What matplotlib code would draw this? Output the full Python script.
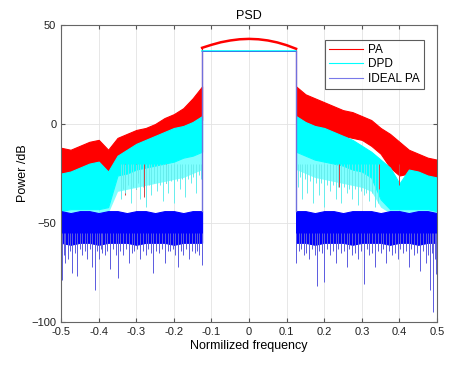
import numpy as np
import matplotlib.pyplot as plt

plt.rcParams['font.family'] = ['Liberation Sans', 'DejaVu Sans']

# out-of-band frequency nodes (left / right of the channel)
f_left = [-0.5, -0.475, -0.45, -0.425, -0.4, -0.375, -0.35, -0.325, -0.3,
          -0.275, -0.25, -0.225, -0.2, -0.175, -0.15, -0.125]
f_right = [0.125, 0.15, 0.175, 0.2, 0.225, 0.25, 0.275, 0.3, 0.325, 0.35,
           0.375, 0.4, 0.425, 0.45, 0.475, 0.5]

# PA (red) noise band, dB
pa_top_l = [-12, -13, -11, -9, -8, -13, -7, -5, -3, -2, 0, 3, 5, 8, 13, 19]
pa_bot_l = [-30, -27, -24, -22, -20, -25, -22, -17, -15, -13, -11, -9, -7, -4, -1, 2]
pa_top_r = [19, 15, 13, 11, 9, 7, 6, 4, 2, -2, -5, -9, -13, -15, -17, -18]
pa_bot_r = [4, 1, -1, -2, -4, -6, -7, -8, -11, -15, -22, -26, -25, -24, -27, -30]

# DPD (cyan) noise band, dB: dense part and pale spike fringe below it
dpd_top_l = [-25, -24, -22, -20, -19, -24, -16, -13, -10, -8, -6, -4, -2, -1, 1, 4]
dpd_bot_l = [-44, -43, -43, -43, -43, -42, -26, -25, -23, -22, -21, -20, -19, -17, -16, -14]
dpd_frg_l = [-45, -45, -45, -45, -45, -45, -34, -33, -32, -31, -30, -29, -28, -27, -25, -23]
dpd_top_r = [4, 1, -1, -2, -4, -6, -8, -11, -14, -18, -22, -30, -23, -24, -26, -27]
dpd_bot_r = [-14, -16, -18, -19, -20, -21, -23, -24, -27, -38, -43, -43, -43, -43, -43, -44]
dpd_frg_r = [-23, -25, -27, -28, -29, -30, -31, -32, -34, -42, -45, -45, -45, -45, -45, -45]

# IDEAL PA (blue) dense noise core, dB
ideal_top_l = [-44, -45, -44, -44, -45, -44, -44, -45, -44, -44, -45, -44, -44, -45, -44, -44]
ideal_bot_l = [-60, -61, -60, -60, -61, -60, -60, -60, -61, -60, -60, -60, -61, -60, -60, -60]
ideal_top_r = [-44, -44, -45, -44, -44, -45, -44, -44, -44, -45, -44, -44, -45, -44, -44, -45]
ideal_bot_r = [-60, -60, -61, -60, -60, -60, -61, -60, -60, -60, -61, -60, -60, -61, -60, -60]

# in-band levels
f_in = [-0.125, -0.1, -0.075, -0.05, -0.025, 0, 0.025, 0.05, 0.075, 0.1, 0.125]
pa_in = [38.5, 40.0, 41.3, 42.2, 42.8, 43.0, 42.8, 42.2, 41.2, 39.8, 38.0]
dpd_in = [37] * 11
ideal_in = [37] * 11

# deep downward spikes (frequency, dB)
ideal_spk_f = [-0.497, -0.493, -0.49, -0.483, -0.477, -0.47, -0.463, -0.457, -0.45, -0.445,
               -0.437, -0.43, -0.424, -0.418, -0.41, -0.405, -0.4, -0.395, -0.39, -0.383,
               -0.377, -0.37, -0.362, -0.355, -0.35, -0.343, -0.335, -0.328, -0.32, -0.312,
               -0.305, -0.297, -0.29, -0.283, -0.275, -0.268, -0.262, -0.255, -0.248, -0.24,
               -0.232, -0.225, -0.217, -0.21, -0.203, -0.197, -0.19, -0.182, -0.175, -0.168,
               -0.16, -0.152, -0.145, -0.138, -0.132, -0.126,
               0.126, 0.132, 0.138, 0.145, 0.152, 0.16, 0.168, 0.175, 0.18, 0.187, 0.193,
               0.2, 0.207, 0.215, 0.222, 0.23, 0.237, 0.245, 0.252, 0.26, 0.267, 0.275,
               0.282, 0.29, 0.298, 0.306, 0.313, 0.32, 0.327, 0.335, 0.343, 0.35, 0.357,
               0.365, 0.372, 0.38, 0.387, 0.395, 0.402, 0.41, 0.418, 0.425, 0.432, 0.44,
               0.447, 0.455, 0.462, 0.47, 0.475, 0.48, 0.486, 0.49, 0.494, 0.497]
ideal_spk_v = [-79, -66, -70, -68, -64, -75, -65, -77, -63, -66, -64, -68, -63, -72, -84,
               -64, -68, -63, -65, -66, -64, -73, -63, -66, -78, -64, -66, -63, -70, -65,
               -64, -63, -68, -64, -66, -63, -65, -75, -64, -65, -63, -70, -64, -64, -63,
               -66, -72, -64, -66, -63, -68, -64, -65, -64, -66, -71,
               -70, -64, -63, -66, -65, -68, -63, -66, -82, -64, -65, -80, -63, -66, -64,
               -70, -63, -65, -64, -72, -63, -66, -65, -68, -64, -81, -63, -66, -65, -72,
               -64, -65, -63, -70, -64, -66, -65, -68, -63, -65, -64, -72, -63, -66, -65,
               -74, -64, -70, -66, -84, -65, -95, -68, -76]
dpd_spk_f = [-0.34, -0.335, -0.33, -0.322, -0.315, -0.308, -0.3, -0.295, -0.29, -0.282,
             -0.275, -0.267, -0.26, -0.252, -0.245, -0.238, -0.23, -0.222, -0.215, -0.207,
             -0.2, -0.192, -0.185, -0.178, -0.17, -0.162, -0.155, -0.148, -0.14, -0.133, -0.128,
             0.13, 0.136, 0.14, 0.148, 0.155, 0.162, 0.17, 0.178, 0.185, 0.192, 0.2, 0.207,
             0.215, 0.222, 0.23, 0.237, 0.245, 0.252, 0.26, 0.267, 0.275, 0.282, 0.29,
             0.298, 0.305, 0.312, 0.32, 0.327, 0.335, 0.342]
dpd_spk_v = [-38, -33, -35, -31, -40, -32, -33, -30, -38, -32, -42, -31, -36, -30, -34,
             -31, -39, -30, -35, -29, -40, -29, -33, -28, -37, -28, -30, -27, -35, -26, -28,
             -32, -27, -38, -28, -35, -29, -40, -30, -36, -30, -42, -31, -34, -31, -38,
             -32, -40, -32, -35, -33, -38, -33, -41, -34, -36, -35, -39, -35, -42, -40]
pa_spk_f = [-0.33, -0.3, -0.28, -0.22, 0.24, 0.345, 0.4]
pa_spk_v = [-36, -33, -37, -30, -32, -33, -31]

fig, ax = plt.subplots(figsize=(4.74, 3.68), dpi=100)
fig.subplots_adjust(left=0.129, right=0.922, top=0.932, bottom=0.125)

red, cyan, blue = '#ff0000', '#00ffff', '#0000ff'

# PA
for f, top, bot in [(f_left, pa_top_l, pa_bot_l), (f_right, pa_top_r, pa_bot_r)]:
    ax.fill_between(f, bot, top, color=red, lw=0.8, edgecolor=red)
ax.vlines(pa_spk_f, -20, pa_spk_v, color='#d04040', lw=0.7)
ax.plot(f_in, pa_in, color=red, lw=1.8, label='PA')
ax.plot([-0.125, -0.125], [pa_top_l[-1], pa_in[0]], color=red, lw=0.8)
ax.plot([0.125, 0.125], [pa_top_r[0], pa_in[-1]], color=red, lw=0.8)

# DPD
for f, top, bot, frg in [(f_left, dpd_top_l, dpd_bot_l, dpd_frg_l),
                         (f_right, dpd_top_r, dpd_bot_r, dpd_frg_r)]:
    ax.fill_between(f, frg, bot, color=cyan, lw=0, alpha=0.5)
    ax.fill_between(f, bot, top, color=cyan, lw=0.8, edgecolor=cyan)
ax.vlines(dpd_spk_f, -20, dpd_spk_v, color='#66eeee', lw=0.7)
ax.plot(f_in, dpd_in, color=cyan, lw=1.2, label='DPD')

# IDEAL PA
for f, top, bot in [(f_left, ideal_top_l, ideal_bot_l), (f_right, ideal_top_r, ideal_bot_r)]:
    ax.fill_between(f, bot, top, color=blue, lw=0.8, edgecolor=blue)
ax.vlines(ideal_spk_f, -55, ideal_spk_v, color='#5a5ae0', lw=0.7)
ax.plot(f_in, ideal_in, color='#4040e0', lw=0.7, alpha=0.7, label='IDEAL PA')
ax.plot([-0.125, -0.125], [ideal_top_l[-1], ideal_in[0]], color='#7070dd', lw=1.0)
ax.plot([0.125, 0.125], [ideal_top_r[0], ideal_in[-1]], color='#7070dd', lw=1.0)

ax.set_xlim(-0.5, 0.5)
ax.set_ylim(-100, 50)
ax.set_xticks(np.arange(-0.5, 0.51, 0.1))
ax.set_xticklabels(['-0.5', '-0.4', '-0.3', '-0.2', '-0.1', '0', '0.1', '0.2', '0.3', '0.4', '0.5'])
ax.set_yticks([-100, -50, 0, 50])
ax.tick_params(direction='in', top=True, right=True, labelsize=8, length=3,
               color='#555555', labelcolor='#222222')
for s in ax.spines.values():
    s.set_color('#666666')
ax.grid(True, color='#e3e3e3', lw=0.6)
ax.set_axisbelow(True)
ax.set_title('PSD', fontsize=9, pad=4)
ax.set_xlabel('Normilized frequency', fontsize=9, labelpad=2)
ax.set_ylabel('Power /dB', fontsize=9, labelpad=2)

leg = ax.legend(loc='upper right', fontsize=8.5, frameon=True, fancybox=False,
                edgecolor='#333333', handlelength=2.9, handletextpad=0.4,
                borderpad=0.35, labelspacing=0.2, bbox_to_anchor=(0.98, 0.97))
leg.get_frame().set_linewidth(0.8)
for h in leg.get_lines():
    h.set_linewidth(0.8)

fig.savefig('out.png', dpi=100)
